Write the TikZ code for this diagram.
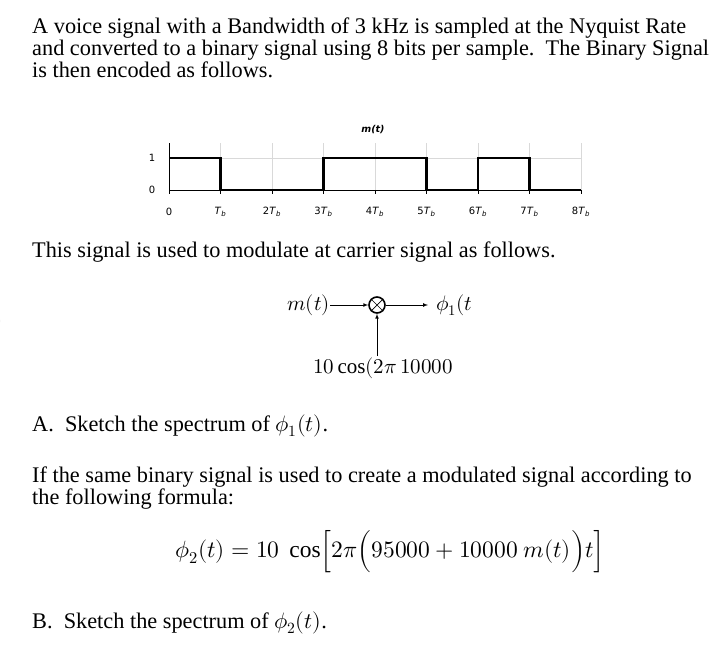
\documentclass[tikz,border=0pt]{standalone}
\usepackage{amsmath}
\usepackage{fontspec}
\usepackage{unicode-math}
\setmainfont{Liberation Serif}
\setmathfont{Latin Modern Math}
\newfontfamily\chartfont{DejaVu Sans}
\begin{document}
\begin{tikzpicture}[x=1pt,y=-1pt,
  txt/.style={anchor=base west,inner sep=0pt,font=\fontsize{22.3}{22}\selectfont},
  lbl/.style={inner sep=0pt,font=\chartfont\fontsize{10}{12}\selectfont},
  grid/.style={draw=black!15,line width=0.6pt},
  sig/.style={line width=2.6pt,line join=miter},
  arr/.style={-latex,line width=0.7pt}]
\useasboundingbox (0,0) rectangle (728,656);
\draw[black!20] (0,345) ++(-12,-12) arc[start angle=90,end angle=-90,radius=12] coordinate (arcend);
% header text
\node[txt] (t1) at (32,33) {A voice signal with a Bandwidth of 3 kHz is sampled at the Nyquist Rate};
\node[txt] (t2) at (32,55) {and converted to a binary signal using 8 bits per sample.\ \ The Binary Signal};
\node[txt] (t3) at (32,77) {is then encoded as follows.};
% chart
\node[lbl,font=\chartfont\bfseries\itshape\fontsize{9.5}{11}\selectfont] (mt) at (373,130) {m(t)};
\foreach \i in {1,...,8} {\draw[grid] (169+51.5*\i,143) -- (169+51.5*\i,190);}
\draw[grid] (169,158) -- (581,158);
\draw[line width=0.6pt] (169,143) -- (169,190) -- (581,190);
\foreach \i in {0,...,8} {\draw[line width=0.6pt] (169+51.5*\i,190) -- (169+51.5*\i,194);}
\node[lbl] (y1) at (152,158) {1};
\node[lbl] (y0) at (152,190) {0};
\node[lbl] (x0) at (169,212) {0};
\node[lbl] (x1) at (220.5,212) {\textit{T}\textsubscript{\textit{b}}};
\foreach \i in {2,...,8} {\node[lbl] (x\i) at (169+51.5*\i,212) {\i\textit{T}\textsubscript{\textit{b}}};}
\draw[sig] (169,158) -- (220.5,158) -- (220.5,190) -- (323.5,190) -- (323.5,158) -- (426.5,158) -- (426.5,190) -- (478,190) -- (478,158) -- (529.5,158) -- (529.5,190) -- (581,190);
\node[txt] (t4) at (32,257) {This signal is used to modulate at carrier signal as follows.};
% modulator
\node[inner sep=0pt,font=\fontsize{21}{22}\selectfont,anchor=east] (min) at (330,305) {$m(t)$};
\node[circle,draw,line width=1.6pt,minimum size=16pt,inner sep=0pt] (mix) at (377,305) {};
\draw[line width=0.7pt] (mix.north west) -- (mix.south east) (mix.north east) -- (mix.south west);
\node[inner sep=0pt,font=\fontsize{21}{22}\selectfont,anchor=west] (phi) at (436,305) {$\phi_1(t$};
\coordinate (car) at (377,356);
\node[inner sep=0pt,font=\fontsize{21}{22}\selectfont,anchor=north] (ctext) at (383,358) {$10\cos(2\pi\, 10000$};
\draw[arr] (min) -- (mix);
\draw[arr] (mix) -- (428,305);
\draw[arr] (car) -- (mix);
% questions
\node[txt] (qa) at (32,431) {A.\ \ Sketch the spectrum of $\phi_1(t)$.};
\node[txt] (t5) at (32,482) {If the same binary signal is used to create a modulated signal according to};
\node[txt] (t6) at (32,504) {the following formula:};
\node[inner sep=0pt,font=\fontsize{23.5}{26}\selectfont] (eq) at (390,552) {$\phi_2(t)=10\ \cos\Bigl[2\pi\Bigl(95000+10000\ m(t)\Bigr)t\Bigr]$};
\node[txt] (qb) at (32,628) {B.\ \ Sketch the spectrum of $\phi_2(t)$.};
\end{tikzpicture}
\end{document}
